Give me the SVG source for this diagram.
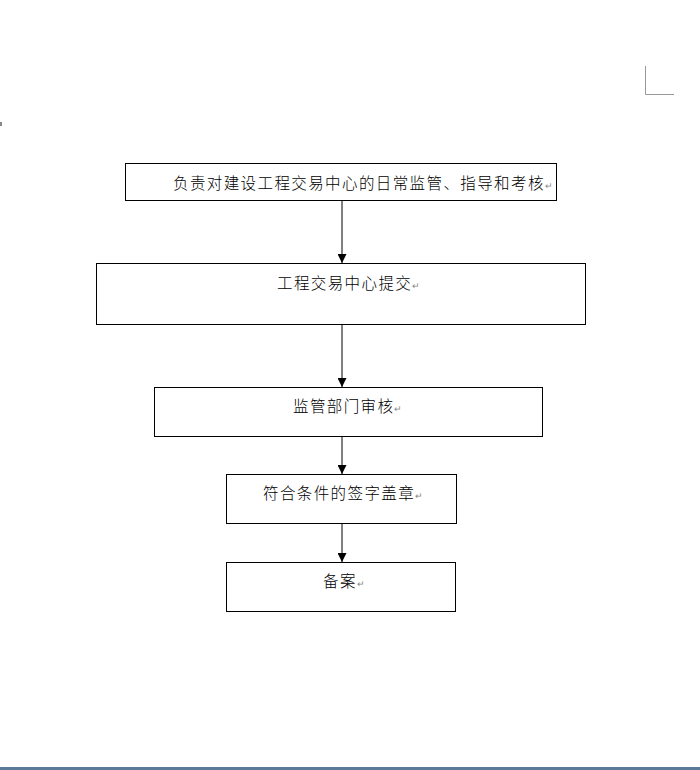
<svg xmlns="http://www.w3.org/2000/svg" width="700" height="770" viewBox="0 0 700 770">
<defs>
<style>
.box{fill:#fff;stroke:#000;stroke-width:1}
.t{font-family:"Noto Sans CJK SC","Liberation Sans",sans-serif;font-size:15.5px;font-weight:300;fill:#000;letter-spacing:1.4px}
.r{font-family:"DejaVu Sans",sans-serif;font-size:9px;fill:#888;letter-spacing:0}
.c{stroke:#000;stroke-width:1;fill:none}
</style>
<marker id="ah" viewBox="0 0 10 10" refX="10" refY="5" markerWidth="10" markerHeight="9" markerUnits="userSpaceOnUse" orient="auto">
<path d="M0,0 L10,5 L0,10 Z" fill="#000"/>
</marker>
</defs>
<rect width="700" height="770" fill="#fff"/>
<path d="M645.5,66 V94.5 H674" stroke="#999" stroke-width="1" fill="none"/>
<rect x="0" y="122" width="2" height="4" fill="#888"/>
<rect x="0" y="767" width="700" height="3" fill="#5a7a9a"/>
<g id="connectors">
<line class="c" x1="342" y1="200" x2="342" y2="263" marker-end="url(#ah)"/>
<line class="c" x1="342" y1="325" x2="342" y2="387" marker-end="url(#ah)"/>
<line class="c" x1="342" y1="437" x2="342" y2="474" marker-end="url(#ah)"/>
<line class="c" x1="342" y1="524" x2="342" y2="562" marker-end="url(#ah)"/>
</g>
<g id="n1">
<rect class="box" x="125.5" y="163.5" width="431" height="37"/>
<text class="t" x="173" y="189">负责对建设工程交易中心的日常监管、指导和考核<tspan class="r">↵</tspan></text>
</g>
<g id="n2">
<rect class="box" x="96.5" y="263.5" width="489" height="61"/>
<text class="t" x="277" y="289">工程交易中心提交<tspan class="r">↵</tspan></text>
</g>
<g id="n3">
<rect class="box" x="154.5" y="387.5" width="388" height="49"/>
<text class="t" x="293" y="412">监管部门审核<tspan class="r">↵</tspan></text>
</g>
<g id="n4">
<rect class="box" x="226.5" y="474.5" width="230" height="49"/>
<text class="t" x="263" y="499">符合条件的签字盖章<tspan class="r">↵</tspan></text>
</g>
<g id="n5">
<rect class="box" x="226.5" y="562.5" width="229" height="49"/>
<text class="t" x="323" y="587">备案<tspan class="r">↵</tspan></text>
</g>
</svg>
